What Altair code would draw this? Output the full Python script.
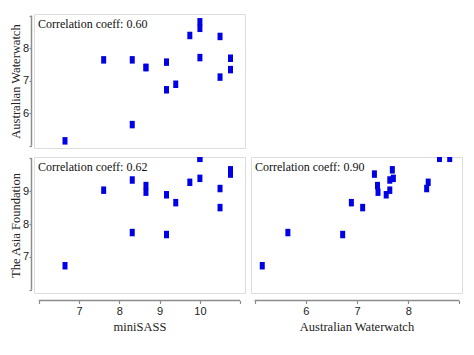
import altair as alt
import pandas as pd

# Site scores
mini_sass = [6.65, 7.61, 8.32, 8.32, 8.66, 8.66, 9.17, 9.17, 9.40, 9.75, 10.0, 10.0, 10.0, 10.5, 10.5, 10.76, 10.76]
waterwatch = [5.15, 7.64, 7.64, 5.65, 7.40, 7.41, 7.57, 6.72, 6.89, 8.39, 8.81, 8.61, 7.71, 8.36, 7.11, 7.69, 7.34]
asia_found = [6.73, 9.03, 9.34, 7.74, 9.17, 8.97, 8.89, 7.68, 8.65, 9.27, 10.0, 10.0, 9.39, 9.08, 8.50, 9.65, 9.52]

corr_labels = ["Correlation coeff: 0.60", "Correlation coeff: 0.62", "Correlation coeff: 0.90"]

mini_ticks = [6, 7, 8, 9, 10, 11]
ww_ticks = [5, 6, 7, 8, 9]
taf_ticks = [6, 7, 8, 9, 10]

mini_domain = [5.88, 11.12]
ww_domain = [4.93, 9.05]
taf_domain = [5.9, 10.04]

df = pd.DataFrame({"miniSASS": mini_sass, "Australian Waterwatch": waterwatch,
                   "The Asia Foundation": asia_found})

BLUE = "#0000e6"
GRAY = "#8c8c8c"
SERIF = "Liberation Serif"
SANS = "Liberation Sans"
RECT = "M-0.667,-1 L0.667,-1 L0.667,1 L-0.667,1 Z"
W = 211


def is_end(ticks):
    return f"(datum.value == {ticks[0]} || datum.value == {ticks[-1]})"


def label_expr(ticks):
    return f"{is_end(ticks)} ? '' : format(datum.value, 'd')"


def label_size(ticks):
    return {"condition": {"test": is_end(ticks), "value": 0}, "value": 11}


def x_axis(ticks, title):
    return alt.Axis(values=ticks, labelExpr=label_expr(ticks), domain=False, grid=False,
                    offset=7.5, tickSize=3, tickColor=GRAY, tickWidth=1.2,
                    labelOverlap=False, labelFlush=False,
                    labelFont=SANS, labelFontSize=label_size(ticks), labelColor="#222",
                    labelPadding=2,
                    title=title, titleFont=SERIF, titleFontSize=12.5, titleFontWeight="normal",
                    titleColor="#222", titlePadding=4)


def y_axis(ticks, title):
    return alt.Axis(values=ticks, labelExpr=label_expr(ticks), domain=False, grid=False,
                    offset=2.5, tickSize=2.5, tickColor=GRAY, tickWidth=1.2,
                    labelOverlap=False, labelFlush=False,
                    labelFont=SANS, labelFontSize=label_size(ticks), labelColor="#222",
                    labelPadding=0.5,
                    title=title, titleFont=SERIF, titleFontSize=12.5, titleFontWeight="normal",
                    titleColor="#222", titlePadding=0)


def panel(xf, xdom, xticks, show_x, yf, ydom, yticks, show_y, label, h):
    xs = alt.Scale(domain=xdom, nice=False, zero=False)
    ys = alt.Scale(domain=ydom, nice=False, zero=False)
    xa = x_axis(xticks, xf) if show_x else None
    ya = y_axis(yticks, yf) if show_y else None
    pts = alt.Chart(df).mark_point(shape=RECT, filled=True, size=56, color=BLUE, opacity=1,
                                   strokeWidth=0, clip=True).encode(
        x=alt.X(f"{xf}:Q", scale=xs, axis=xa),
        y=alt.Y(f"{yf}:Q", scale=ys, axis=ya),
    )
    txt = alt.Chart(pd.DataFrame({"t": [label]})).mark_text(
        align="left", baseline="top", font=SERIF, fontSize=12, color="#111"
    ).encode(x=alt.value(4), y=alt.value(5), text="t:N")
    layers = [pts, txt]
    if show_x:
        xr = alt.Chart(pd.DataFrame({"a": [xticks[0]], "b": [xticks[-1]]})).mark_rule(
            color=GRAY, strokeWidth=1.5).encode(
            x=alt.X("a:Q", scale=xs, axis=xa), x2="b:Q", y=alt.value(h + 7.5))
        layers.append(xr)
    if show_y:
        yr = alt.Chart(pd.DataFrame({"a": [yticks[0]], "b": [yticks[-1]]})).mark_rule(
            color=GRAY, strokeWidth=1.5).encode(
            y=alt.Y("a:Q", scale=ys, axis=ya), y2="b:Q", x=alt.value(-2.5))
        layers.append(yr)
    return alt.layer(*layers).properties(width=W, height=h)


tl = panel("miniSASS", mini_domain, mini_ticks, False,
           "Australian Waterwatch", ww_domain, ww_ticks, True, corr_labels[0], 134)
bl = panel("miniSASS", mini_domain, mini_ticks, True,
           "The Asia Foundation", taf_domain, taf_ticks, True, corr_labels[1], 136)
br = panel("Australian Waterwatch", ww_domain, ww_ticks, True,
           "The Asia Foundation", taf_domain, taf_ticks, False, corr_labels[2], 136)

chart = alt.vconcat(tl, alt.hconcat(bl, br, spacing=4), spacing=7).properties(
    padding={"left": 0, "top": 5, "right": 0, "bottom": 0}
).configure_view(stroke=GRAY, strokeWidth=1.6).configure(background="white")

chart.save("out.html", embed_options={"renderer": "svg", "actions": False})
